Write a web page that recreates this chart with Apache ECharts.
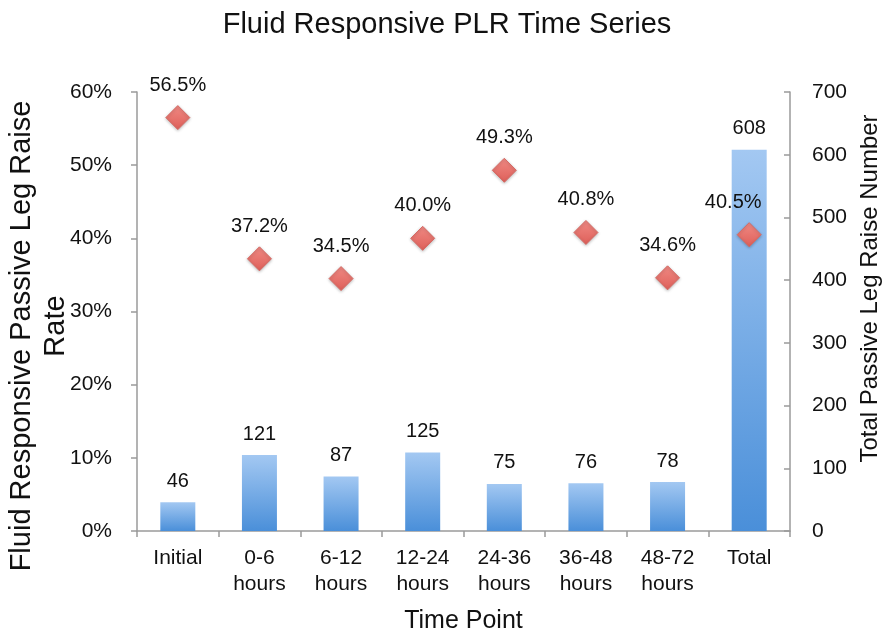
<!DOCTYPE html>
<html><head><meta charset="utf-8">
<script src="https://cdn.jsdelivr.net/npm/echarts@6/dist/echarts.min.js"></script>
<style>html,body{margin:0;padding:0;background:#fff}#c{width:894px;height:637px}</style>
</head><body><div id="c"></div>
<script>
const categories = ['Initial', '0-6\nhours', '6-12\nhours', '12-24\nhours', '24-36\nhours', '36-48\nhours', '48-72\nhours', 'Total'];
const plrNumbers = [46, 121, 87, 125, 75, 76, 78, 608];
const responsiveRate = [56.5, 37.2, 34.5, 40.0, 49.3, 40.8, 34.6, 40.5];
const leftTicks = [0, 10, 20, 30, 40, 50, 60];
const rightTicks = [0, 100, 200, 300, 400, 500, 600, 700];
const leftAxisTitle = ['Fluid Responsive Passive Leg Raise', 'Rate'];

const font = 'Liberation Sans, Arial, Helvetica, sans-serif';
const axisColor = '#9a9a9a';
const chart = echarts.init(document.getElementById('c'));
const rateData = responsiveRate.map((v, i) =>
  i === responsiveRate.length - 1 ? {value: v, label: {offset: [-16, 0]}} : v);
chart.setOption({
  animation: false,
  backgroundColor: '#fff',
  title: {
    text: 'Fluid Responsive PLR Time Series',
    left: 'center', top: 5,
    textStyle: {fontFamily: font, fontSize: 29, fontWeight: 'normal', color: '#111'}
  },
  graphic: [
    {type: 'text', x: 22, y: 336, rotation: Math.PI / 2,
      style: {text: leftAxisTitle[0], align: 'center', verticalAlign: 'middle',
        font: '29px ' + font, fill: '#111'}},
    {type: 'text', x: 56, y: 326, rotation: Math.PI / 2,
      style: {text: leftAxisTitle[1], align: 'center', verticalAlign: 'middle',
        font: '29px ' + font, fill: '#111'}}
  ],
  grid: {left: 137, right: 104, top: 92, bottom: 106, containLabel: false, outerBoundsMode: 'none'},
  xAxis: {
    type: 'category',
    data: categories,
    name: 'Time Point',
    nameLocation: 'middle',
    nameGap: 78,
    nameTextStyle: {fontFamily: font, fontSize: 25, color: '#111'},
    axisLine: {lineStyle: {color: axisColor, width: 1.5}},
    axisTick: {show: true, length: 6, lineStyle: {color: axisColor, width: 1.5}},
    axisLabel: {fontFamily: font, fontSize: 21, color: '#111', margin: 14, lineHeight: 26, interval: 0}
  },
  yAxis: [
    {
      type: 'value', min: leftTicks[0], max: leftTicks[leftTicks.length - 1], interval: 10,
      axisLine: {show: true, lineStyle: {color: axisColor, width: 1.5}},
      axisTick: {show: true, length: 6, lineStyle: {color: axisColor, width: 1.5}},
      splitLine: {show: false},
      axisLabel: {fontFamily: font, fontSize: 21, color: '#111', margin: 25, formatter: v => v + '%'}
    },
    {
      type: 'value', min: rightTicks[0], max: rightTicks[rightTicks.length - 1], interval: 100,
      name: 'Total Passive Leg Raise Number',
      nameLocation: 'middle', nameRotate: 90, nameGap: 64,
      nameTextStyle: {fontFamily: font, fontSize: 24, color: '#111', padding: [0, 0, 0, 46]},
      axisLine: {show: true, lineStyle: {color: axisColor, width: 1.5}},
      axisTick: {show: true, length: 6, inside: true, lineStyle: {color: axisColor, width: 1.5}},
      splitLine: {show: false},
      axisLabel: {fontFamily: font, fontSize: 21, color: '#111', margin: 22}
    }
  ],
  series: [
    {
      type: 'bar',
      yAxisIndex: 1,
      data: plrNumbers,
      barWidth: 35,
      itemStyle: {
        color: new echarts.graphic.LinearGradient(0, 0, 0, 1, [
          {offset: 0, color: '#a3c8f2'},
          {offset: 1, color: '#4a8fd9'}
        ])
      },
      label: {show: true, position: 'top', distance: 11, fontFamily: font, fontSize: 20, color: '#111'}
    },
    {
      type: 'scatter',
      yAxisIndex: 0,
      data: rateData,
      symbol: 'diamond',
      symbolSize: [24, 24],
      itemStyle: {
        opacity: 1,
        color: new echarts.graphic.LinearGradient(0, 0, 0, 1, [
          {offset: 0, color: '#f08a84'},
          {offset: 1, color: '#de5f59'}
        ]),
        borderColor: '#d66a64', borderWidth: 1,
        shadowColor: 'rgba(0,0,0,0.25)', shadowBlur: 3, shadowOffsetY: 1
      },
      label: {show: true, position: 'top', distance: 10, fontFamily: font, fontSize: 20, color: '#111',
        formatter: p => p.value.toFixed(1) + '%'}
    }
  ]
});
</script></body></html>
